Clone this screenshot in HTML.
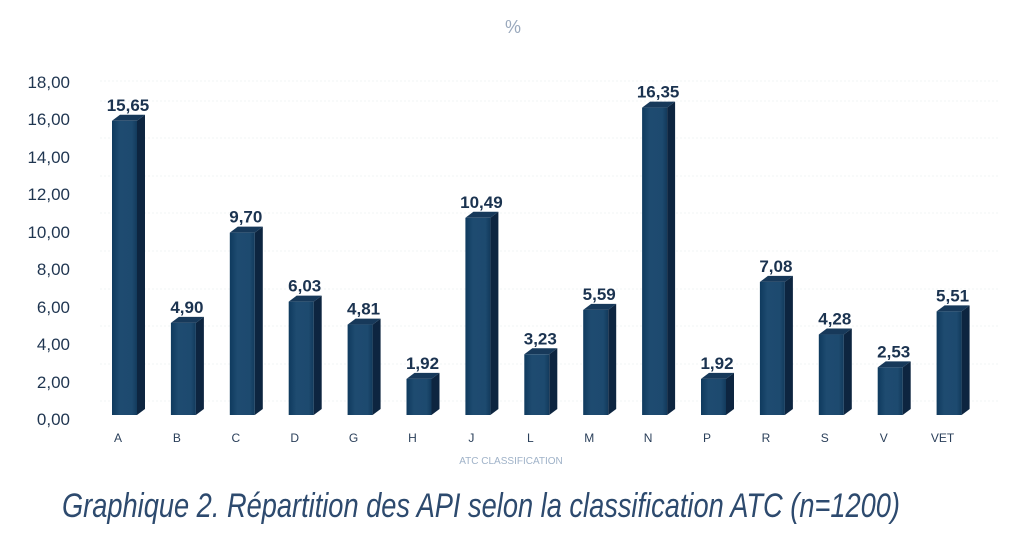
<!DOCTYPE html>
<html><head><meta charset="utf-8"><style>
body{margin:0;background:#fff;}
svg{display:block;}
</style></head><body>
<svg width="1034" height="548" viewBox="0 0 1034 548" xmlns="http://www.w3.org/2000/svg">
<defs>
<linearGradient id="f" x1="0" x2="1" y1="0" y2="0">
<stop offset="0" stop-color="#0f3a5e"/><stop offset="0.3" stop-color="#1e4b70"/><stop offset="0.8" stop-color="#1d4a6f"/><stop offset="1" stop-color="#123a5c"/>
</linearGradient>
</defs>
<text x="513" y="33" font-family="Liberation Sans, sans-serif" font-size="18" fill="#9aa9bd" text-anchor="middle">%</text>
<g stroke="#f2f4f6" stroke-width="1" stroke-dasharray="2,2">
<line x1="100" x2="1000" y1="81" y2="81"/><line x1="100" x2="1000" y1="101" y2="101"/><line x1="100" x2="1000" y1="138" y2="138"/><line x1="100" x2="1000" y1="176" y2="176"/><line x1="100" x2="1000" y1="213" y2="213"/><line x1="100" x2="1000" y1="251" y2="251"/><line x1="100" x2="1000" y1="289" y2="289"/><line x1="100" x2="1000" y1="326" y2="326"/><line x1="100" x2="1000" y1="364" y2="364"/><line x1="100" x2="1000" y1="401" y2="401"/>
</g>
<g font-family="Liberation Sans, sans-serif" font-size="17" fill="#1f3550" text-anchor="end">
<text x="70" y="425">0,00</text><text x="70" y="388">2,00</text><text x="70" y="350">4,00</text><text x="70" y="313">6,00</text><text x="70" y="275">8,00</text><text x="70" y="238">10,00</text><text x="70" y="200">12,00</text><text x="70" y="163">14,00</text><text x="70" y="125">16,00</text><text x="70" y="88">18,00</text>
</g>
<g id="bars"></g>
<g font-family="Liberation Sans, sans-serif" font-size="12" fill="#2a3f5a" text-anchor="middle" id="xl"></g>
<text x="511" y="464" font-family="Liberation Sans, sans-serif" font-size="10" fill="#9fb2c8" text-anchor="middle">ATC CLASSIFICATION</text>
<text x="62" y="517" font-family="Liberation Sans, sans-serif" font-style="italic" font-size="34" fill="#2d4a6e" textLength="838" lengthAdjust="spacingAndGlyphs">Graphique 2. Répartition des API selon la classification ATC (n=1200)</text>
</svg>
<script>
var d=[["A",15.65],["B",4.90],["C",9.70],["D",6.03],["G",4.81],["H",1.92],["J",10.49],["L",3.23],["M",5.59],["N",16.35],["P",1.92],["R",7.08],["S",4.28],["V",2.53],["VET",5.51]];
var ns="http://www.w3.org/2000/svg",g=document.getElementById("bars"),xl=document.getElementById("xl");
function el(t,a,p){var e=document.createElementNS(ns,t);for(var k in a)e.setAttribute(k,a[k]);p.appendChild(e);return e;}
d.forEach(function(v,i){
var cx=125+i*58.9,x0=cx-13,x1=cx+12,y0=415,yt=415-v[1]*18.8,dx=8,dy=6;
el("polygon",{points:x1+","+y0+" "+(x1+dx)+","+(y0-dy)+" "+(x1+dx)+","+(yt-dy)+" "+x1+","+yt,fill:"#0d2540"},g);
el("polygon",{points:x0+","+yt+" "+(x0+dx)+","+(yt-dy)+" "+(x1+dx)+","+(yt-dy)+" "+x1+","+yt,fill:"#17395a"},g);
el("rect",{x:x0,y:yt,width:25,height:y0-yt,fill:"url(#f)"},g);
var t=el("text",{x:cx+3,y:yt-10,"font-family":"Liberation Sans, sans-serif","font-size":"17","font-weight":"bold",fill:"#1b3350","text-anchor":"middle"},g);t.textContent=v[1].toFixed(2).replace(".",",");
var l=el("text",{x:cx-7,y:442},xl);l.textContent=v[0];
});
</script>
</body></html>
